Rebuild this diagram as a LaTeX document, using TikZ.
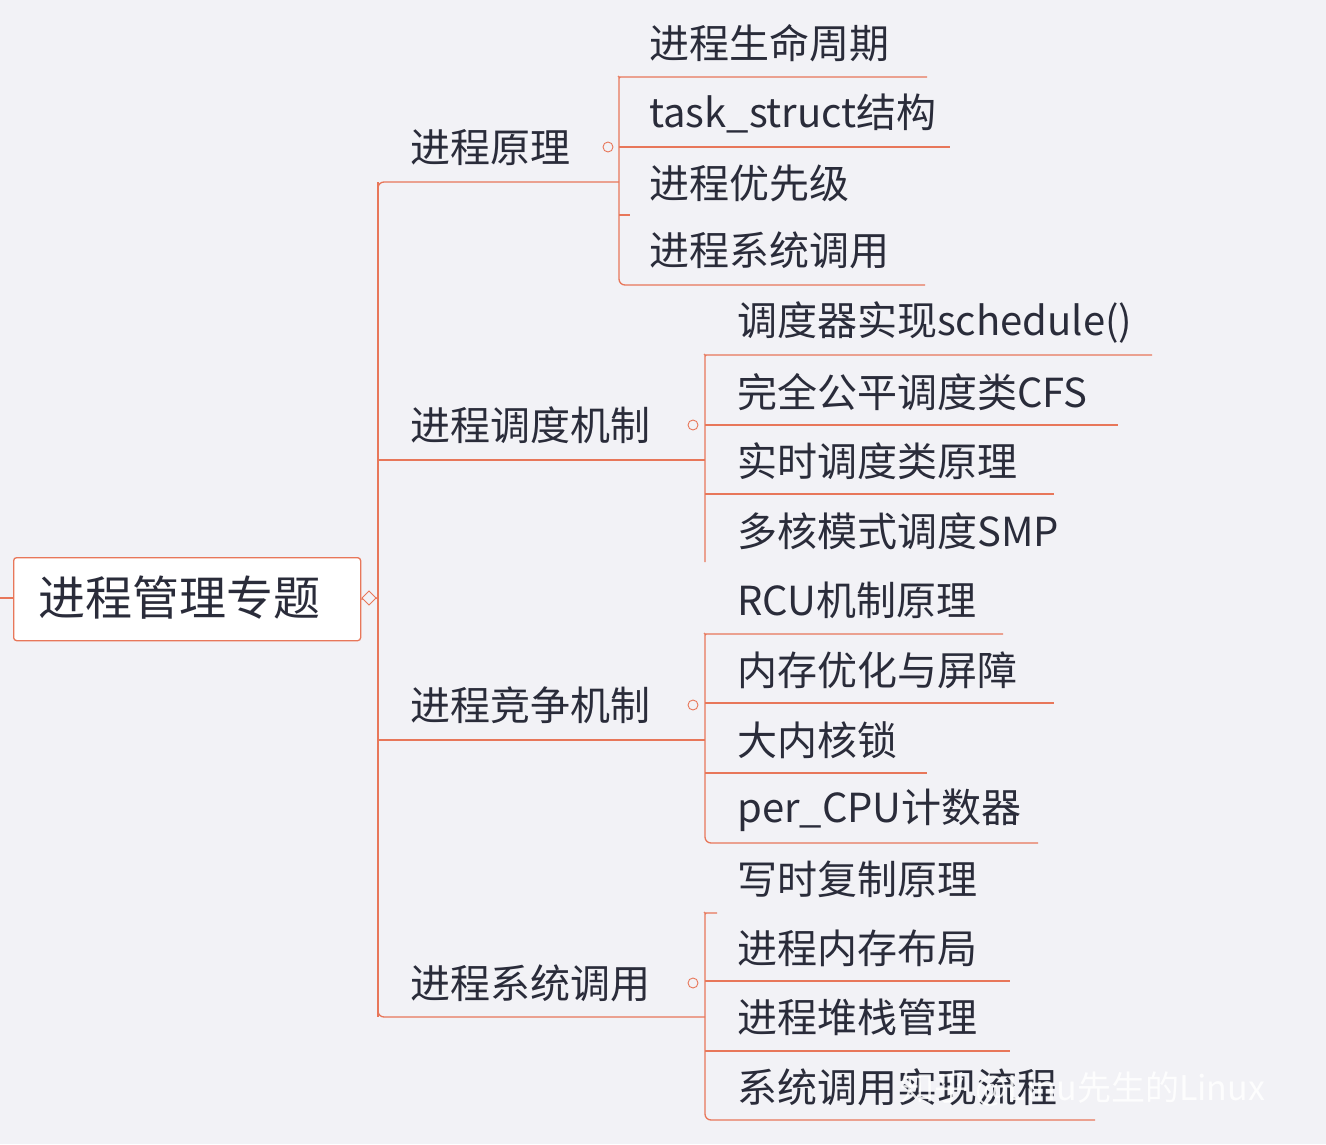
\documentclass[tikz,border=0pt]{standalone}
\usepackage{fontspec}
\setmainfont{Noto Sans CJK SC}
\definecolor{bg}{HTML}{F2F2F6}
\definecolor{ln}{HTML}{E8775A}
\definecolor{tx}{HTML}{2A2C3A}
\begin{document}
\begin{tikzpicture}[x=1pt,y=-1pt,
  lab/.style={anchor=west,inner sep=0pt,text=tx,font=\fontsize{40}{44}\selectfont},
  br/.style={lab},
  cn/.style={draw=ln,line width=1.3pt,rounded corners=6pt},
  mk/.style={draw=ln,line width=0.9pt,fill=bg}]
\fill[bg] (0,0) rectangle (1326,1144);
\useasboundingbox (0,0) rectangle (1326,1144);
% root
\draw[ln,line width=1.3pt] (0,598) -- (13,598);
\node[draw=ln,line width=1.3pt,fill=white,rounded corners=3pt,minimum width=347pt,minimum height=83pt,anchor=north west,inner sep=0pt] (root) at (13,557) {};
\node[lab,font=\fontsize{47}{50}\selectfont] (roott) at (38,598) {进程管理专题};
\draw[cn] (378,182) -- (378,1017);
\draw[cn,rounded corners=0pt] (root.east) -- (378,598);
\draw[mk] (369,591) -- (376,598) -- (369,605) -- (362,598) -- cycle;
% branch 1
\node[br] (b1) at (410,148) {进程原理};
\draw[cn] (378,200) |- (619,182);
\draw[cn] (927,77) -- (625,77) to[out=180,in=90] (619,83) -- (619,285) -- (925,285);
\draw[cn] (619,147) -- (950,147);
\draw[cn] (619,215) -- (630,215);
\draw[mk] (608,147) circle (5pt);
\node[lab] (c11) at (649,43) {进程生命周期};
\node[lab] (c12) at (649,113) {task\_struct结构};
\node[lab] (c13) at (649,183) {进程优先级};
\node[lab] (c14) at (649,250) {进程系统调用};
% branch 2
\node[br] (b2) at (410,425) {进程调度机制};
\draw[cn] (378,460) -- (705,460);
\draw[cn] (1152,355) -- (711,355) to[out=180,in=90] (705,361) -- (705,562);
\draw[cn] (705,425) -- (1118,425);
\draw[cn] (705,494) -- (1054,494);
\draw[mk] (693,425) circle (5pt);
\node[lab] (c21) at (737,322) {调度器实现schedule()};
\node[lab] (c22) at (737,392) {完全公平调度类CFS};
\node[lab] (c23) at (737,461) {实时调度类原理};
\node[lab] (c24) at (737,531) {多核模式调度SMP};
% branch 3
\node[br] (b3) at (410,705) {进程竞争机制};
\draw[cn] (378,740) -- (705,740);
\draw[cn] (1003,634) -- (711,634) to[out=180,in=90] (705,640) -- (705,843) -- (1038,843);
\draw[cn] (705,703) -- (1054,703);
\draw[cn] (705,773) -- (927,773);
\draw[mk] (693,705) circle (5pt);
\node[lab] (c31) at (737,600) {RCU机制原理};
\node[lab] (c32) at (737,670) {内存优化与屏障};
\node[lab] (c33) at (737,740) {大内核锁};
\node[lab] (c34) at (737,810) {per\_CPU计数器};
% branch 4
\node[br] (b4) at (410,983) {进程系统调用};
\draw[cn] (378,1000) |- (705,1017);
\draw[cn] (715,913) -- (711,913) to[out=180,in=90] (705,919) -- (705,1120) -- (1095,1120);
\draw[cn] (705,981) -- (1010,981);
\draw[cn] (705,1051) -- (1010,1051);
\draw[mk] (693,983) circle (5pt);
\node[lab] (c44) at (737,1087) {系统调用实现流程};
\node[lab] (c41) at (737,879) {写时复制原理};
\node[lab] (c42) at (737,948) {进程内存布局};
\node[lab] (c43) at (737,1017) {进程堆栈管理};
\node[anchor=west,inner sep=0pt,text=white,font=\fontsize{34}{38}\selectfont,opacity=0.85] (wm) at (900,1089) {知乎 @Linu先生的Linux};
\end{tikzpicture}
\end{document}
